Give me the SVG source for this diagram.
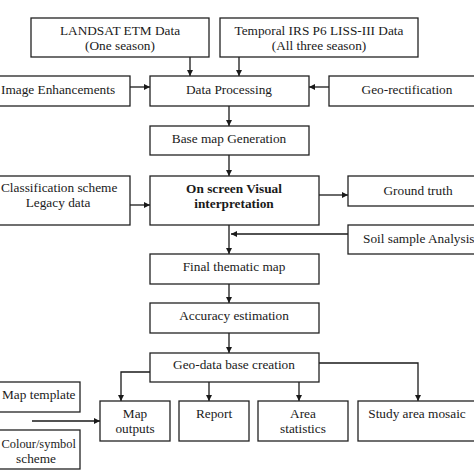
<svg xmlns="http://www.w3.org/2000/svg" width="474" height="474" viewBox="0 0 474 474">
<defs>
<marker id="ah" viewBox="0 0 8 8" refX="8" refY="4" markerWidth="6" markerHeight="6" orient="auto" markerUnits="userSpaceOnUse">
<path d="M0,0 L8,4 L0,8 Z" fill="#1a1a1a"/>
</marker>
<style>
rect{fill:#fff;stroke:#222;stroke-width:1.3}
text{font-family:"Liberation Serif","Times New Roman",Times,serif;font-size:13.3px;fill:#1a1a1a;text-anchor:middle}
.b{font-weight:bold}
.s{text-anchor:start}
#connectors path{fill:none;stroke:#1a1a1a;stroke-width:1.3;marker-end:url(#ah)}
</style>
</defs>
<rect x="0" y="0" width="474" height="474" style="fill:#fff;stroke:none"/>
<g id="connectors">
<path d="M190,57 V76"/>
<path d="M239,57 V76"/>
<path d="M130,87 H150"/>
<path d="M329,87 H309"/>
<path d="M229,106 V126"/>
<path d="M229,155 V176"/>
<path d="M130,205 H150"/>
<path d="M319,195 H348"/>
<path d="M348,234 H231"/>
<path d="M229,225 V254"/>
<path d="M229,284 V303"/>
<path d="M229,333 V353"/>
<path d="M150,372 H121 V401"/>
<path d="M209,382 V401"/>
<path d="M299,382 V401"/>
<path d="M319,363 H418 V401"/>
<path d="M32,421 H100"/>
</g>
<g id="landsat"><rect x="31" y="18" width="178" height="39"/><text x="120" y="35">LANDSAT ETM Data</text><text x="120" y="50">(One season)</text></g>
<g id="irs"><rect x="220" y="18" width="198" height="39"/><text x="319" y="35">Temporal IRS P6 LISS-III Data</text><text x="319" y="50">(All three season)</text></g>
<g id="enh"><rect x="-20" y="76" width="150" height="30"/><text class="s" x="1" y="94">Image Enhancements</text></g>
<g id="dp"><rect x="150" y="76" width="159" height="30"/><text x="229" y="94">Data Processing</text></g>
<g id="georect"><rect x="329" y="76" width="160" height="30"/><text x="407" y="94">Geo-rectification</text></g>
<g id="basemap"><rect x="150" y="126" width="159" height="29"/><text x="229" y="143">Base map Generation</text></g>
<g id="class"><rect x="-20" y="176" width="150" height="49"/><text class="s" x="1" y="192">Classification scheme</text><text x="58" y="207">Legacy data</text></g>
<g id="visual"><rect x="150" y="176" width="169" height="49"/><text class="b" x="234" y="193">On screen Visual</text><text class="b" x="234" y="208">interpretation</text></g>
<g id="ground"><rect x="348" y="176" width="140" height="30"/><text x="418" y="195">Ground truth</text></g>
<g id="soil"><rect x="348" y="225" width="140" height="29"/><text class="s" x="363" y="243">Soil sample Analysis</text></g>
<g id="final"><rect x="150" y="254" width="169" height="30"/><text x="234" y="271">Final thematic map</text></g>
<g id="accuracy"><rect x="150" y="303" width="169" height="30"/><text x="234" y="320">Accuracy estimation</text></g>
<g id="geodb"><rect x="150" y="353" width="169" height="29"/><text x="234" y="369">Geo-data base creation</text></g>
<g id="template"><rect x="-20" y="382" width="100" height="30"/><text class="s" x="2" y="399">Map template</text></g>
<g id="colour"><rect x="-20" y="430" width="100" height="39"/><text class="s" x="1.5" y="448" style="font-size:12.4px">Colour/symbol</text><text x="36" y="463">scheme</text></g>
<g id="mapout"><rect x="100" y="401" width="70" height="40"/><text x="135" y="418">Map</text><text x="135" y="433">outputs</text></g>
<g id="report"><rect x="179" y="401" width="70" height="40"/><text x="214" y="418">Report</text></g>
<g id="area"><rect x="258" y="401" width="90" height="40"/><text x="303" y="418">Area</text><text x="303" y="433">statistics</text></g>
<g id="mosaic"><rect x="358" y="401" width="130" height="40"/><text x="417" y="418">Study area mosaic</text></g>
</svg>
